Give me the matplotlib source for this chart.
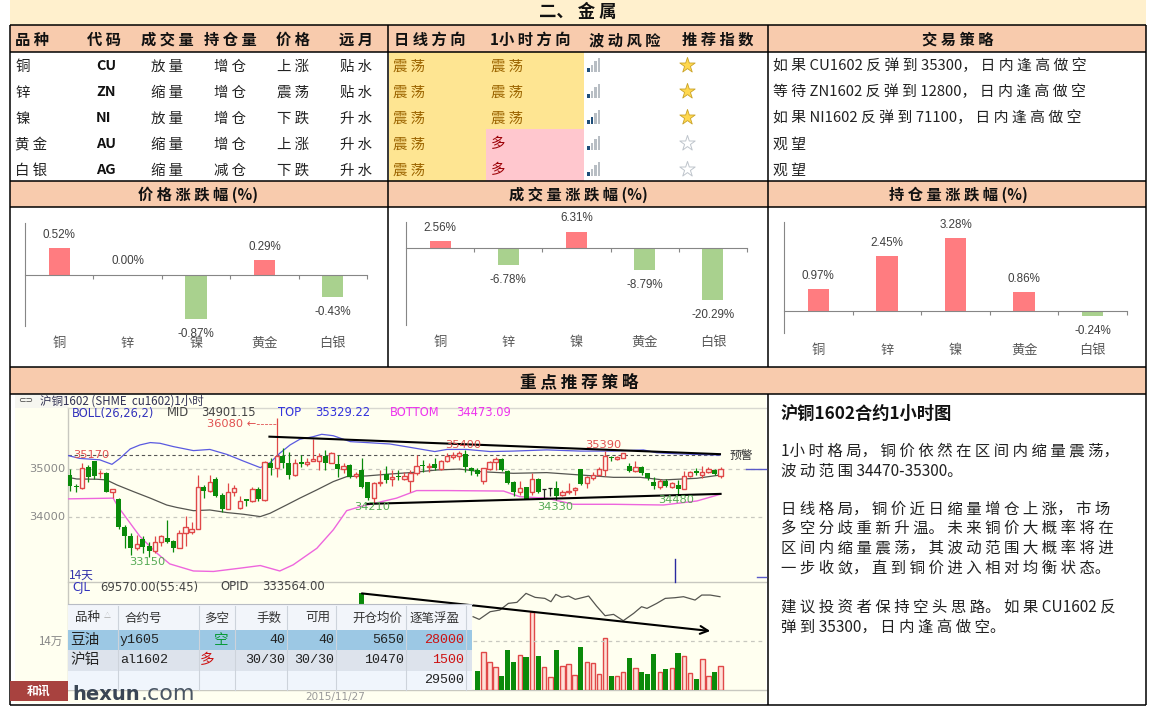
import numpy as np
import matplotlib
matplotlib.use("Agg")
import matplotlib.pyplot as plt
from matplotlib.patches import Rectangle

plt.rcParams['font.family'] = ['Noto Sans CJK SC', 'DejaVu Sans']

W, H = 1158, 711
PEACH = "#F8CBAD"
LATIN = ['DejaVu Sans', 'Noto Sans CJK SC']
MONO = ['Liberation Mono', 'Noto Sans CJK SC']

# summary table
names = ["铜", "锌", "镍", "黄金", "白银"]
codes = ["CU", "ZN", "NI", "AU", "AG"]
volume_state = ["放 量", "缩 量", "放 量", "缩 量", "缩 量"]
position_state = ["增 仓", "增 仓", "增 仓", "增 仓", "减 仓"]
price_state = ["上 涨", "震 荡", "下 跌", "上 涨", "下 跌"]
far_month = ["贴 水", "贴 水", "升 水", "升 水", "升 水"]
daily_dir = ["震 荡", "震 荡", "震 荡", "震 荡", "震 荡"]
hourly_dir = ["震 荡", "震 荡", "震 荡", "多", "多"]
risk_level = [1, 1, 2, 1, 1]
rec_stars = [1, 1, 1, 0, 0]
strategy = ["如 果 CU1602 反 弹 到 35300\uff0c 日 内 逢 高 做 空",
            "等 待 ZN1602 反 弹 到 12800\uff0c 日 内 逢 高 做 空",
            "如 果 NI1602 反 弹 到 71100\uff0c 日 内 逢 高 做 空",
            "观 望", "观 望"]

# change charts
price_chg = [0.52, 0.00, -0.87, 0.29, -0.43]
volume_chg = [2.56, -6.78, 6.31, -8.79, -20.29]
position_chg = [0.97, 2.45, 3.28, 0.86, -0.24]

# hourly candles for cu1602
opens = [34880, 34655, 34600, 35040, 35175, 34915, 34915, 34520, 34365, 33790, 33590, 33345,
         33530, 33380, 33280, 33470, 33555, 33490, 33345, 33650, 33670, 33730, 34620, 34540,
         34800, 34460, 34160, 34530, 34180, 34365, 34340, 34585, 34350, 35140, 35020, 35290,
         35140, 34880, 35155, 35110, 35180, 35180, 35290, 35140, 35105, 35000, 35090, 34860,
         34985, 34725, 34390, 34720, 34895, 34790, 34860, 34790, 34760, 34930, 35090, 35055,
         35110, 35005, 35175, 35265, 35290, 35315, 35020, 34985, 34760, 35000, 35160, 35210,
         34965, 34725, 34515, 34620, 34530, 34790, 34580, 34595, 34610, 34460, 34530, 34565,
         35000, 34705, 34810, 34880, 34985, 35270, 35210, 35245, 35070, 34970, 35040, 34915,
         34740, 34635, 34760, 34635, 34670, 34585, 34860, 34970, 34880, 34950, 34985, 34860]
closes = [34650, 34620, 35035, 34845, 34860, 34930, 34520, 34580, 33770, 33580, 33345, 33415,
          33365, 33280, 33470, 33590, 33460, 33345, 33650, 33790, 33740, 34620, 34540, 34740,
          34440, 34160, 34530, 34600, 34340, 34330, 34590, 34365, 35160, 35035, 35280, 35140,
          34880, 35140, 35110, 35160, 35210, 35280, 35140, 35350, 35000, 35070, 34845, 34895,
          34630, 34390, 34705, 34740, 34775, 34830, 34830, 34860, 34930, 35070, 35070, 35075,
          35035, 35175, 35280, 35300, 35340, 35040, 34965, 34895, 35020, 35160, 35220, 34985,
          34720, 34515, 34610, 34375, 34790, 34530, 34580, 34595, 34435, 34530, 34550, 34610,
          34690, 34830, 34880, 35000, 35280, 35230, 35270, 35340, 34970, 35040, 34915, 34825,
          34650, 34760, 34650, 34705, 34585, 34865, 34950, 34930, 34950, 35000, 34900, 35000]
highs = [35000, 34690, 35140, 35090, 35175, 34985, 34950, 34590, 34390, 33820, 33650, 33610,
         33580, 33470, 33580, 33610, 33930, 33510, 33720, 34010, 33890, 34880, 34670, 34880,
         34830, 34490, 34700, 34670, 34440, 34380, 34620, 34620, 35180, 35230, 36080, 35440,
         35370, 35210, 35300, 35230, 35650, 35340, 35410, 35370, 35300, 35125, 35110, 34950,
         35245, 34740, 34740, 34985, 35070, 34985, 34985, 34950, 34985, 35300, 35200, 35125,
         35230, 35200, 35340, 35370, 35390, 35410, 35055, 35020, 35035, 35175, 35270, 35230,
         34985, 34760, 34760, 34620, 34930, 34810, 34580, 34600, 34760, 34560, 34705, 34635,
         35000, 34860, 34950, 35040, 35390, 35290, 35290, 35350, 35140, 35175, 35070, 34930,
         34830, 34790, 34790, 34740, 34775, 34965, 34965, 35020, 35070, 35040, 35000, 35055]
lows = [34540, 34510, 34580, 34740, 34790, 34810, 34510, 34390, 33730, 33330, 33190, 33300,
        33225, 33150, 33225, 33370, 33440, 33260, 33330, 33370, 33630, 33730, 34390, 34530,
        34420, 34100, 34155, 34440, 34155, 34230, 34310, 34340, 34340, 34880, 34830, 35020,
        34800, 34860, 35055, 35070, 35175, 34985, 34985, 35125, 34845, 34915, 34810, 34810,
        34600, 34350, 34280, 34650, 34705, 34650, 34775, 34775, 34530, 34880, 34950, 34935,
        34985, 34985, 35155, 35210, 35195, 34950, 34880, 34865, 34690, 34985, 34985, 34970,
        34690, 34435, 34460, 34375, 34460, 34490, 34390, 34425, 34350, 34435, 34480, 34460,
        34670, 34610, 34775, 34860, 34860, 35175, 35195, 35230, 34950, 34950, 34880, 34775,
        34580, 34585, 34620, 34600, 34460, 34580, 34845, 34880, 34810, 34930, 34880, 34810]

boll_x_top = [-0.3, 1.6, 4.9, 6.9, 8.2, 9.9, 11.5, 13.2, 14.8, 17, 20.3, 23, 25.8, 28.5, 31.3, 32.9, 34.5,
              36.2, 37.8, 40, 41.4, 43.3, 46.1, 48.8, 52.6, 55.9, 60, 62, 65.2, 69.1, 72.9, 78.4, 83.9,
              89.4, 94.3, 96.5, 100.3, 106.9]
boll_top = [35290, 35230, 35200, 35105, 35230, 35430, 35515, 35565, 35550, 35480, 35395, 35420, 35315,
            35175, 35035, 35140, 35340, 35515, 35635, 35690, 35740, 35710, 35585, 35565, 35535, 35465,
            35375, 35420, 35420, 35375, 35385, 35410, 35385, 35385, 35410, 35350, 35325, 35300]
boll_x_mid = [-0.3, 1.1, 4.4, 6, 7.7, 10.4, 13.2, 15.9, 17.5, 20.3, 23, 25.8, 28.5, 31.3, 32.9, 35.6, 37.8,
              40.6, 43.3, 45.5, 48.8, 52.6, 56.5, 60.3, 64.1, 67.4, 72.9, 78.4, 83.9, 89.4, 93.8, 97.6,
              103.1, 107]
boll_mid = [34830, 34795, 34790, 34775, 34670, 34530, 34390, 34245, 34195, 34125, 34140, 34085, 34050,
            34000, 34070, 34245, 34390, 34565, 34740, 34845, 34860, 34900, 34935, 34985, 35005, 34950,
            34915, 34930, 34880, 34830, 34830, 34775, 34810, 34880]
boll_x_bot = [-0.3, 7.1, 7.9, 9.3, 11.5, 14.3, 16.4, 20.3, 23.6, 28, 31.3, 34.5, 36.7, 40.6, 43.3, 45.5,
              47.7, 53.7, 57, 62, 71.3, 74, 78.4, 82.8, 89.4, 97.6, 103.1, 106.9]
boll_bot = [34375, 34390, 34210, 33965, 33580, 33225, 33000, 32850, 32840, 32910, 32965, 32850, 32980,
            33330, 33720, 34125, 34210, 34390, 34550, 34550, 34540, 34420, 34390, 34260, 34260, 34245,
            34330, 34470]

# volume bars that stay visible beside the position table
vol_idx = [48] + list(range(67, 108))
vol_values = [276000, 55200, 109500, 80900, 66600, 40000, 114200, 79000, 100000, 95200, 221800, 97100,
              64700, 36200, 114200, 68500, 73300, 42800, 121900, 80900, 76200, 44700, 147600, 40000,
              40000, 50500, 90400, 63800, 50500, 44700, 102800, 52400, 59000, 61900, 106600, 97100,
              47600, 30500, 88500, 40900, 52400, 69500]
oi_x = [66.3, 67.3, 69.1, 70.7, 72.1, 73.5, 75, 76.5, 78.1, 79.1, 79.9, 80.9, 82, 83.1, 85.3, 86.6, 88,
        89.4, 91, 92.7, 94, 94.9, 96.5, 97.9, 99.5, 100.9, 102.8, 103.9, 105.3, 106.9]
oi_y = [209400, 201800, 223700, 228500, 247500, 250400, 276100, 264700, 261800, 252300, 273200, 264700,
        268500, 259000, 268500, 239900, 212300, 216100, 198000, 219000, 238000, 233200, 247500, 261800,
        263700, 266600, 257000, 271300, 271300, 266600]

# open positions panel
pos_headers = ["合约号", "多空", "手数", "可用", "开仓均价", "逐笔浮盈"]
pos_names = ["豆油", "沪铝"]
pos_contracts = ["y1605", "al1602"]
pos_side = ["空", "多"]
pos_lots = ["40", "30/30"]
pos_avail = ["40", "30/30"]
pos_avg = ["5650", "10470"]
pos_pnl = ["28000", "1500"]
pos_total = "29500"

commentary = [("1小 时 格 局\uff0c 铜 价 依 然 在 区 间 内 缩 量 震 荡\uff0c", 450),
              ("波 动 范 围 34470-35300。", 470),
              ("日 线 格 局\uff0c 铜 价 近 日 缩 量 增 仓 上 涨\uff0c 市 场", 508),
              ("多 空 分 歧 重 新 升 温。 未 来 铜 价 大 概 率 将 在", 528),
              ("区 间 内 缩 量 震 荡\uff0c 其 波 动 范 围 大 概 率 将 进", 548),
              ("一 步 收 敛\uff0c 直 到 铜 价 进 入 相 对 均 衡 状 态。", 567),
              ("建 议 投 资 者 保 持 空 头 思 路。 如 果 CU1602 反", 606),
              ("弹 到 35300\uff0c 日 内 逢 高 做 空。", 626)]


def px_axes(x0, y0, x1, y1, z=1):
    a = fig.add_axes([x0 / W, 1 - y1 / H, (x1 - x0) / W, (y1 - y0) / H], zorder=z)
    a.patch.set_alpha(0)
    return a


def rect(a, x0, y0, x1, y1, color, z=1):
    a.add_patch(Rectangle((x0, y0), x1 - x0, y1 - y0, facecolor=color, edgecolor="none", zorder=z))


def change_bars(box, values, ylim):
    a = px_axes(*box, z=2)
    x = np.arange(len(values))
    colors = ["#FF7C80" if v >= 0 else "#A9D18E" for v in values]
    a.bar(x, values, width=0.31, color=colors)
    a.set_xlim(-0.5, 4.5)
    a.set_ylim(*ylim)
    for s in ["top", "right"]:
        a.spines[s].set_visible(False)
    a.spines["bottom"].set_position(("data", 0))
    a.spines["bottom"].set_color("#868686")
    a.spines["left"].set_color("#868686")
    a.set_yticks([])
    a.set_xticks(np.arange(0.5, 5, 1))
    a.set_xticklabels([])
    a.tick_params(axis="x", length=3, color="#868686", direction="out")
    for i, v in enumerate(values):
        off = 9.4 if v >= 0 else -10.8
        a.annotate(f"{v:.2f}%", (i, v), xytext=(0, off), textcoords="offset points", ha="center",
                   va="center", fontsize=8.4, color="#404040", family=["Liberation Sans"])
        a.annotate(names[i], xy=(i, 0), xycoords=("data", "axes fraction"), xytext=(0, -15),
                   textcoords="offset points", ha="center", va="baseline", fontsize=9.5, color="#595959")
    return a


fig = plt.figure(figsize=(W / 100, H / 100), dpi=100, facecolor="white")

# page layout in pixel coordinates
ax = px_axes(0, 0, W, H, z=0)
ax.set_xlim(0, W)
ax.set_ylim(H, 0)
ax.axis("off")

rect(ax, 10, 0, 1146, 25, "#FFF0CD")
rect(ax, 10, 25, 1146, 52, PEACH)
rect(ax, 10, 181, 1146, 207, PEACH)
rect(ax, 10, 367, 1146, 394, PEACH)
for r in range(5):
    y0 = 52 + r * 25.8
    rect(ax, 389, y0, 486, y0 + 25.8, "#FEE592")
    rect(ax, 486, y0, 584, y0 + 25.8, "#FEE592" if hourly_dir[r] != "多" else "#FFC7CE")

for y in [25, 52, 181, 207, 367, 394, 705]:
    ax.plot([10, 1146], [y, y], color="black", lw=1.1, zorder=5, solid_capstyle="butt")
for x, y0, y1 in [(10, 25, 705), (1146, 25, 705), (388, 25, 367), (768, 25, 367), (768, 394, 705)]:
    ax.plot([x, x], [y0, y1], color="black", lw=1.1, zorder=5, solid_capstyle="butt")

ax.text(578, 12, "二、 金 属", ha="center", va="center", fontsize=12.5, weight="bold", color="#111111")
head = [(15, "品 种"), (87, "代 码"), (141, "成 交 量"), (204, "持 仓 量"), (276, "价 格"), (339, "远 月"),
        (394, "日 线 方 向"), (490, "1小 时 方 向"), (589, "波 动 风 险"), (682, "推 荐 指 数")]
for x, t in head:
    ax.text(x, 45, t, ha="left", va="baseline", fontsize=11, weight="bold", color="#111111")
ax.text(958, 45, "交 易 策 略", ha="center", va="baseline", fontsize=11, weight="bold", color="#111111")

for r in range(5):
    y = 65 + r * 26
    b = y + 5.5
    ax.text(15, b, " ".join(names[r]), va="baseline", fontsize=10.4, color="#222222")
    ax.text(96, b, codes[r], va="baseline", fontsize=10.4, color="#111111", weight="bold")
    ax.text(151, b, volume_state[r], va="baseline", fontsize=10.4, color="#222222")
    ax.text(214, b, position_state[r], va="baseline", fontsize=10.4, color="#222222")
    ax.text(277, b, price_state[r], va="baseline", fontsize=10.4, color="#222222")
    ax.text(340, b, far_month[r], va="baseline", fontsize=10.4, color="#222222")
    ax.text(393, b, daily_dir[r], va="baseline", fontsize=10.4, color="#9C6500")
    c = "#9C0006" if hourly_dir[r] == "多" else "#9C6500"
    ax.text(491, b, hourly_dir[r], va="baseline", fontsize=10.4, color=c)
    ax.text(773, b, strategy[r], va="baseline", fontsize=10.7, color="#222222")
    # signal bars for the risk column
    for k in range(4):
        color = "#1F4E79" if k < risk_level[r] else "#B8BEC4"
        rect(ax, 587 + k * 3.6, y + 7 - (4 + k * 3.4), 589.6 + k * 3.6, y + 7, color, z=3)
    if rec_stars[r]:
        ax.scatter([687], [y], marker="*", s=135, color="#FFD84F", edgecolors="#C9A227", linewidths=0.6, zorder=3)
    else:
        ax.scatter([687], [y], marker="*", s=135, color="white", edgecolors="#BFC5CC", linewidths=0.7, zorder=3)

ax.text(198, 200, "价 格 涨 跌 幅 (%)", ha="center", va="baseline", fontsize=11, weight="bold", color="#111111")
ax.text(578, 200, "成 交 量 涨 跌 幅 (%)", ha="center", va="baseline", fontsize=11, weight="bold", color="#111111")
ax.text(958, 200, "持 仓 量 涨 跌 幅 (%)", ha="center", va="baseline", fontsize=11, weight="bold", color="#111111")
ax.text(579, 387, "重 点 推 荐 策 略", ha="center", va="baseline", fontsize=12, weight="bold", color="#111111")

change_bars((25, 223, 367, 326), price_chg, (-1, 1))
change_bars((406, 222, 747, 325), volume_chg, (-30, 10))
change_bars((784, 222, 1127, 333), position_chg, (-1, 4))

ax.text(781, 419, "沪铜1602合约1小时图", va="baseline", fontsize=12.4, weight="bold", color="#111111")
for t, y in commentary:
    ax.text(781, y + 5.5, t, va="baseline", fontsize=11.1, color="#222222")

# terminal screenshot background
CHART_BG = "#FFFFF0"
rect(ax, 15, 395, 766, 703, CHART_BG)
rect(ax, 15, 395, 68, 408, "#F6F6F0")
ax.plot([68, 68], [408, 690], color="#C8C8C0", lw=1, zorder=2)
ax.plot([68, 766], [408, 408], color="#D8D8D0", lw=1, zorder=2)
ax.plot([68, 766], [582, 582], color="#C8C8C0", lw=1, zorder=2)
ax.plot([68, 766], [690, 690], color="#C8C8C0", lw=1, zorder=2)

# price panel
pax = px_axes(68, 408, 766, 582, z=2)
pax.set_xlim(-0.33, 114.47)
pax.set_ylim(32617, 36296)
pax.axis("off")
pax.axhline(35000, color="#C8C8C0", lw=0.9, ls=(0, (3, 3)))
pax.axhline(34000, color="#C8C8C0", lw=0.9, ls=(0, (3, 3)))
pax.plot([-0.33, 107], [35296, 35296], color="#555555", lw=0.8, ls=(0, (3, 2.5)))
pax.plot(boll_x_top, boll_top, color="#5A5AE0", lw=0.9)
pax.plot(boll_x_mid, boll_mid, color="#555550", lw=0.9)
pax.plot(boll_x_bot, boll_bot, color="#EE66DD", lw=1.0)

GREEN = "#0A8A0A"
RED = "#E04848"
for i in range(len(opens)):
    o, c = opens[i], closes[i]
    if o == c:
        pax.vlines(i, lows[i], highs[i], color="#222222", lw=0.9)
        pax.hlines(o, i - 0.33, i + 0.33, color="#222222", lw=0.9)
    elif c > o:
        pax.vlines(i, lows[i], o, color=RED, lw=0.9)
        pax.vlines(i, c, highs[i], color=RED, lw=0.9)
        pax.bar(i, c - o, bottom=o, width=0.7, facecolor="#FFF8F0", edgecolor=RED, linewidth=1.0, zorder=3)
    else:
        pax.vlines(i, lows[i], highs[i], color=GREEN, lw=0.9)
        pax.bar(i, o - c, bottom=c, width=0.82, color=GREEN, zorder=3)

pax.plot([32.8, 106.9], [35690, 35320], color="black", lw=1.5, zorder=4)
pax.plot([48.8, 107], [34268, 34480], color="black", lw=1.5, zorder=4)

# volume panel
vax = px_axes(68, 582, 766, 690, z=2)
vax.set_xlim(-0.33, 114.47)
vax.set_ylim(0, 308600)
vax.axis("off")
vax.axhline(140000, color="#C8C8C0", lw=0.9, ls=(0, (3, 3)))
vax.plot(oi_x, oi_y, color="#555550", lw=0.9)
for i, v in zip(vol_idx, vol_values):
    if closes[i] >= opens[i]:
        vax.bar(i, v, width=0.72, facecolor="#FFE0D8", edgecolor=RED, linewidth=1.0)
    else:
        vax.bar(i, v, width=0.85, color=GREEN)
vax.annotate("", xy=(105.3, 168500), xytext=(48, 276000),
             arrowprops=dict(arrowstyle="->", color="black", lw=1.5, shrinkA=0, shrinkB=0, mutation_scale=14),
             zorder=4)

# overlay: labels and the positions panel
oax = px_axes(0, 0, W, H, z=3)
oax.set_xlim(0, W)
oax.set_ylim(H, 0)
oax.axis("off")

oax.plot([746, 766], [469, 469], color="#5A5AC8", lw=1)
oax.plot([757, 766], [576.5, 576.5], color="#5A5AC8", lw=1)
oax.plot([675, 675], [559, 582], color="#2A2AA0", lw=1)
oax.text(741, 455, "预警", ha="center", va="center", fontsize=8.5, color="#333333")

oax.text(18, 401, "⊂⊃", va="center", fontsize=6.5, color="#444444", family=LATIN)
oax.text(40, 401, "沪铜1602 (SHME  cu1602)1小时", va="center", fontsize=8.3, color="#333355")
for txt, x, c in [("BOLL(26,26,2)", 72, "#3333BB"), ("MID", 167, "#444444"), ("34901.15", 201, "#444444"),
                  ("TOP", 278, "#3333DD"), ("35329.22", 315, "#3333DD"),
                  ("BOTTOM", 390, "#EE33EE"), ("34473.09", 456, "#EE33EE")]:
    oax.text(x, 413, txt, va="center", fontsize=8.3, color=c, family=LATIN)

for txt, x, y, c in [("36080 ←-----", 207, 424, "#E05050"), ("35170", 73, 455, "#E05050"), ("35400", 445, 445, "#E05050"),
                     ("35390", 585, 445, "#E05050"), ("33150", 129, 562, "#55AA55"), ("34210", 354, 507, "#55AA55"),
                     ("34330", 537, 507, "#55AA55"), ("34480", 658, 500, "#55AA55")]:
    oax.text(x, y, txt, va="center", fontsize=8.2, color=c, family=LATIN)

oax.text(65, 469, "35000", ha="right", va="center", fontsize=8.2, color="#888888", family=LATIN)
oax.text(65, 516.5, "34000", ha="right", va="center", fontsize=8.2, color="#888888", family=LATIN)
oax.text(62, 641, "14万", ha="right", va="center", fontsize=8.3, color="#888888")
oax.text(69, 575, "14天", va="center", fontsize=8.5, color="#3333AA")
oax.text(72, 587, "CJL", va="center", fontsize=8.4, color="#3333BB", family=LATIN)
oax.text(100, 587, "69570.00(55:45)", va="center", fontsize=8.4, color="#444444", family=LATIN)
oax.text(220, 587, "OPID", va="center", fontsize=8.4, color="#444444", family=LATIN)
oax.text(262, 587, "333564.00", va="center", fontsize=8.4, color="#444444", family=LATIN)

rect(oax, 68, 604, 472, 630, "#F2F5FA", z=2)
rect(oax, 68, 630, 472, 650, "#9CC8E4", z=2)
rect(oax, 68, 650, 472, 671, "#DDE3EC", z=2)
rect(oax, 68, 671, 472, 690, "#F0F5FC", z=2)
for x in [118, 199, 235, 287, 336, 406, 466]:
    oax.plot([x, x], [606, 690], color="#CDD3DB", lw=0.8, zorder=3)
oax.plot([68, 472], [604, 604], color="#B8BCC4", lw=0.8, zorder=3)

oax.text(75, 618, "品种", va="center", fontsize=9, color="#333333", zorder=4)
oax.text(107, 616, "△", va="center", ha="center", fontsize=5, color="#AAAAAA", zorder=4)
oax.text(125, 618, pos_headers[0], va="center", fontsize=9, color="#333333", zorder=4)
for x, t in zip([217, 281, 330, 402, 460], pos_headers[1:]):
    ha = "center" if t == "多空" else "right"
    oax.text(x, 618, t, va="center", ha=ha, fontsize=9, color="#333333", zorder=4)

for r, y in enumerate([640, 660]):
    oax.text(70, y, pos_names[r], va="center", fontsize=10.5, color="#222222", zorder=4)
    oax.text(120, y, pos_contracts[r], va="center", fontsize=9.6, color="#222222", family=MONO, zorder=4)
    side_x = 221 if pos_side[r] == "空" else 207
    side_c = "#0A9A3A" if pos_side[r] == "空" else "#CC1111"
    oax.text(side_x, y, pos_side[r], va="center", ha="center", fontsize=10.5, color=side_c, zorder=4)
    for x, vals in [(285, pos_lots), (334, pos_avail), (404, pos_avg)]:
        oax.text(x, y, vals[r], va="center", ha="right", fontsize=9.6, color="#222222", family=MONO, zorder=4)
    oax.text(464, y, pos_pnl[r], va="center", ha="right", fontsize=9.6, color="#CC1111", family=MONO, zorder=4)
oax.text(464, 680, pos_total, va="center", ha="right", fontsize=9.6, color="#222222", family=MONO, zorder=4)

# site watermark in the corner
rect(oax, 10, 681, 68, 701, "#A8423F", z=5)
oax.text(39, 691, "和讯", ha="center", va="center", fontsize=8.5, weight="bold", color="white", zorder=6)
oax.text(72, 700, "hexun", va="baseline", fontsize=14, weight="bold", color="#3A4654", family=LATIN, zorder=6)
oax.text(141, 700, ".com", va="baseline", fontsize=16, color="#4A5664", family=LATIN, zorder=6)
oax.text(305, 697, "2015/11/27", va="center", fontsize=7.5, color="#999999", family=LATIN, zorder=6)

fig.savefig("out.png", dpi=100)
